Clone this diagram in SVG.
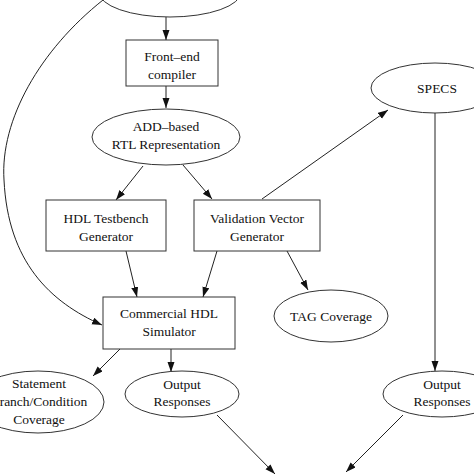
<svg xmlns="http://www.w3.org/2000/svg" width="474" height="474" viewBox="0 0 474 474">
<defs>
<style>
.n{fill:#fff;stroke:#333;stroke-width:1}
.t{font-family:"Liberation Serif","Times New Roman",serif;font-size:13.5px;fill:#111;text-anchor:middle}
.e{fill:none;stroke:#222;stroke-width:1;marker-end:url(#a)}
</style>
<marker id="a" markerUnits="userSpaceOnUse" markerWidth="11" markerHeight="8" refX="10" refY="3.5" orient="auto">
<path d="M0,0 L10,3.5 L0,7 Z" fill="#111"/>
</marker>
</defs>
<rect width="474" height="474" fill="#fff"/>
<g id="connectors">
<path class="e" d="M103,0 C40,50 0,120 4,180 C8,262 50,302 102,325"/>
<path class="e" d="M166,17 L166,40"/>
<path class="e" d="M166,86 L166,108"/>
<path class="e" d="M143,166 L116,200"/>
<path class="e" d="M183,165 L212,199"/>
<path class="e" d="M126,251 L137,297"/>
<path class="e" d="M217,251 L203,297"/>
<path class="e" d="M262,199 L388,110"/>
<path class="e" d="M287,251 L308,290"/>
<path class="e" d="M120,349 L93,376"/>
<path class="e" d="M171,349 L171,372"/>
<path class="e" d="M435,113 L435,371"/>
<path class="e" d="M217,415 L275,474"/>
<path class="e" d="M403,415 L346,472"/>
</g>
<g id="top">
<ellipse class="n" cx="170" cy="-8" rx="71" ry="25"/>
</g>
<g id="frontend">
<rect class="n" x="126" y="40" width="92" height="46"/>
<text class="t" x="172" y="61">Front–end</text>
<text class="t" x="172" y="79">compiler</text>
</g>
<g id="add">
<ellipse class="n" cx="166" cy="137" rx="74" ry="28"/>
<text class="t" x="166" y="131">ADD–based</text>
<text class="t" x="166" y="149">RTL Representation</text>
</g>
<g id="specs">
<ellipse class="n" cx="435" cy="88" rx="64" ry="25"/>
<text class="t" x="437" y="93">SPECS</text>
</g>
<g id="hdltb">
<rect class="n" x="46" y="200" width="120" height="51"/>
<text class="t" x="106" y="223">HDL Testbench</text>
<text class="t" x="106" y="241">Generator</text>
</g>
<g id="vvg">
<rect class="n" x="194" y="200" width="126" height="51"/>
<text class="t" x="257" y="223">Validation Vector</text>
<text class="t" x="257" y="241">Generator</text>
</g>
<g id="tag">
<ellipse class="n" cx="331" cy="316" rx="57" ry="26"/>
<text class="t" x="331" y="321">TAG Coverage</text>
</g>
<g id="sim">
<rect class="n" x="103" y="297" width="132" height="52"/>
<text class="t" x="169" y="318">Commercial HDL</text>
<text class="t" x="169" y="336">Simulator</text>
</g>
<g id="stmt">
<ellipse class="n" cx="38" cy="402" rx="66" ry="31"/>
<text class="t" x="39" y="388">Statement</text>
<text class="t" x="39" y="406">Branch/Condition</text>
<text class="t" x="39" y="424">Coverage</text>
</g>
<g id="outL">
<ellipse class="n" cx="182" cy="394" rx="57" ry="23"/>
<text class="t" x="182" y="389">Output</text>
<text class="t" x="182" y="406">Responses</text>
</g>
<g id="outR">
<ellipse class="n" cx="442" cy="394" rx="59" ry="23"/>
<text class="t" x="442" y="389">Output</text>
<text class="t" x="442" y="406">Responses</text>
</g>
</svg>
